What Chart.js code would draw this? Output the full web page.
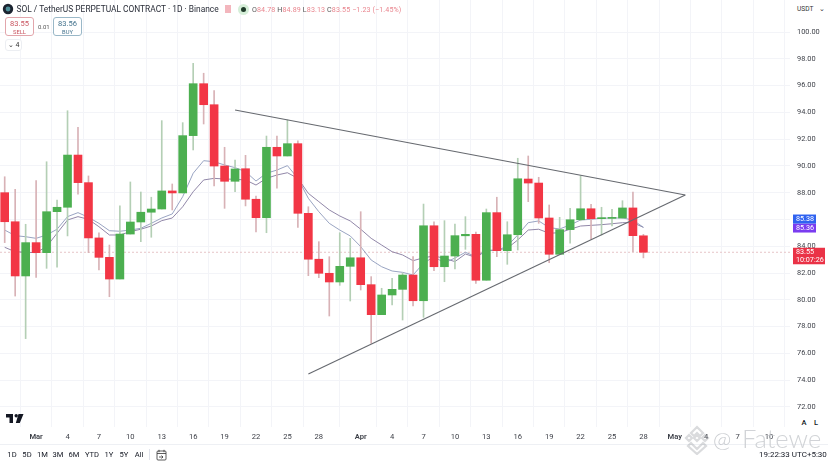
<!DOCTYPE html>
<html><head><meta charset="utf-8">
<script src="https://cdn.jsdelivr.net/npm/chart.js@4/dist/chart.umd.min.js"></script>
<style>
html,body{margin:0;padding:0;background:#fff;width:828px;height:466px;overflow:hidden;font-family:Roboto,sans-serif}
#wrap{position:relative;width:828px;height:466px}
canvas{position:absolute;left:0;top:0}
.o{position:absolute;white-space:nowrap;color:#131722;line-height:1}
.box{position:absolute;border-radius:3px;background:#fff;box-sizing:border-box;text-align:center}
.tf{position:absolute;top:451px;font-size:7.6px;color:#131722;line-height:1;transform:translateX(-50%)}
</style></head><body><div id="wrap">
<canvas id="c" width="828" height="466"></canvas>

<svg class="o" style="left:2px;top:3px" width="12" height="12"><circle cx="6" cy="6" r="5.2" fill="#1c2430"/><circle cx="6" cy="6" r="2.4" fill="#4f8f9a"/></svg>
<div class="o" style="left:16.5px;top:4.5px;font-size:8.4px;color:#2a2e39">SOL / TetherUS PERPETUAL CONTRACT · 1D · Binance</div>
<div class="o" style="left:225px;top:5px;width:6px;height:8px;background:#f3b6bd"></div>
<div class="o" style="left:238px;top:3.5px;width:11px;height:11px;border-radius:50%;background:#d5eed8"></div>
<div class="o" style="left:241px;top:6.5px;width:5px;height:5px;border-radius:50%;background:#1f3a2a"></div>
<div class="o" style="left:252px;top:5.5px;font-size:7.1px;color:#e9868f;letter-spacing:.12px"><span style="color:#555">O</span>84.78 <span style="color:#555">H</span>84.89 <span style="color:#555">L</span>83.13 <span style="color:#555">C</span>83.55 −1.23 (−1.45%)</div>

<div class="box" style="left:5px;top:17px;width:29px;height:19px;border:1px solid #e2a6ac;color:#c9545f;font-size:7.5px;padding-top:2px;line-height:1">83.55<div style="font-size:5.8px;margin-top:2px">SELL</div></div>
<div class="o" style="left:38px;top:23.5px;font-size:6px;color:#555">0.01</div>
<div class="box" style="left:53px;top:17px;width:29px;height:19px;border:1px solid #9ab8c8;color:#41718c;font-size:7.5px;padding-top:2px;line-height:1">83.56<div style="font-size:5.8px;margin-top:2px">BUY</div></div>
<div class="box" style="left:5px;top:39px;width:17px;height:12px;border:1px solid #eceef2;color:#333;font-size:7px;padding-top:2px;line-height:1">⌄ 4</div>

<div class="box" style="left:795px;top:3px;width:31px;height:12px;color:#333;font-size:6.6px;padding-top:3px;line-height:1;text-align:left;padding-left:2px">USDT <span style="margin-left:4px">⌄</span></div>
<div class="box" style="left:799px;top:417px;width:10px;height:11px;color:#131722;font-size:7.5px;padding-top:2px;line-height:1;font-weight:500">A</div>
<div class="box" style="left:811px;top:417px;width:10px;height:11px;color:#131722;font-size:7.5px;padding-top:2px;line-height:1;font-weight:500">L</div>

<svg class="o" style="left:6px;top:414px" width="18" height="10" viewBox="0 0 18 10"><path d="M0 0h7v9H3.5V3.4H0z M7.5 0h0 M12.5 0h5L13.8 9H9.8z" fill="#131722"/><circle cx="10.2" cy="1.8" r="1.7" fill="#131722"/></svg>

<div class="o" style="left:0;top:444px;width:828px;height:1px;background:#eef0f4"></div>
<div class="tf" style="left:12px">1D</div><div class="tf" style="left:27px">5D</div><div class="tf" style="left:42.5px">1M</div><div class="tf" style="left:58px">3M</div><div class="tf" style="left:74px">6M</div><div class="tf" style="left:92px">YTD</div><div class="tf" style="left:109px">1Y</div><div class="tf" style="left:124px">5Y</div><div class="tf" style="left:139px">All</div>
<div class="o" style="left:149px;top:449px;width:1px;height:11px;background:#e0e3eb"></div>
<svg class="o" style="left:156px;top:449px" width="11" height="12" viewBox="0 0 11 12" fill="none" stroke="#333" stroke-width=".8"><rect x="1" y="2" width="9" height="9" rx="1"/><path d="M1 4.5h9M3 .8v2.4M8 .8v2.4M3 8h4M5.5 6.5L7 8 5.5 9.5"/></svg>
<div class="o" style="left:759px;top:451px;font-size:8px;color:#131722">19:22:33 UTC+5:30</div>

<svg class="o" style="left:684px;top:425px;opacity:.32" width="26" height="30" viewBox="0 0 26 30" fill="none" stroke="#8b8f96" stroke-width="2.2"><path d="M13 2l6 6-3 3-3-3-3 3-3-3zM5 10l3 3-3 3-3-3zM21 10l3 3-3 3-3-3zM13 10l3 3-3 3-3-3zM7 18l6 6 6-6 3 3-9 8-9-8z"/></svg>
<div class="o" style="left:713px;top:428px;font-size:22px;color:#bfc2c7;font-family:Lato,sans-serif;font-weight:300;opacity:.85">@</div>
<div class="o" style="left:742px;top:426px;font-size:25.5px;color:#c6c9cd;font-family:Lato,sans-serif;font-weight:300;opacity:.8">Fatewe</div>

<script>
const dates = ["Feb 26","Feb 27","Feb 28","Mar 1","Mar 2","Mar 3","Mar 4","Mar 5","Mar 6","Mar 7","Mar 8","Mar 9","Mar 10","Mar 11","Mar 12","Mar 13","Mar 14","Mar 15","Mar 16","Mar 17","Mar 18","Mar 19","Mar 20","Mar 21","Mar 22","Mar 23","Mar 24","Mar 25","Mar 26","Mar 27","Mar 28","Mar 29","Mar 30","Mar 31","Apr 1","Apr 2","Apr 3","Apr 4","Apr 5","Apr 6","Apr 7","Apr 8","Apr 9","Apr 10","Apr 11","Apr 12","Apr 13","Apr 14","Apr 15","Apr 16","Apr 17","Apr 18","Apr 19","Apr 20","Apr 21","Apr 22","Apr 23","Apr 24","Apr 25","Apr 26","Apr 27","Apr 28"];
const open  = [88.00,85.83,81.78,84.27,83.52,86.58,86.91,90.81,88.75,84.62,83.17,81.55,84.91,85.81,86.54,86.78,88.13,87.98,92.26,96.14,94.57,89.99,88.85,89.79,87.51,86.13,91.39,90.74,91.66,86.46,83.03,81.98,81.33,82.50,83.14,81.13,78.89,80.36,80.78,81.85,79.93,85.53,82.47,83.27,84.78,84.89,81.46,86.51,83.67,84.86,89.02,88.72,86.11,83.40,85.24,85.98,86.80,86.06,86.08,86.11,86.86,84.78];
const high  = [89.19,88.25,85.64,88.90,90.31,87.45,94.12,92.88,89.25,85.01,84.09,87.01,88.80,88.05,87.66,93.38,88.65,93.23,97.66,96.92,95.62,91.39,90.44,90.79,87.75,92.23,92.23,93.43,91.88,86.95,84.34,83.22,85.01,84.59,86.58,81.73,80.86,81.61,82.00,83.22,87.15,85.83,85.91,85.66,86.21,85.06,86.78,87.66,85.83,90.57,90.74,89.15,87.08,86.16,86.83,89.25,87.13,86.91,86.76,87.40,88.05,84.89];
const low   = [84.27,80.28,77.10,81.68,82.35,82.43,84.77,87.88,83.52,82.23,80.23,81.55,84.91,84.34,84.67,86.78,86.71,87.98,91.19,93.13,88.50,86.83,88.07,87.01,85.06,85.01,88.33,90.74,85.41,81.80,81.65,78.79,81.08,79.91,80.73,76.75,78.89,79.61,78.49,79.54,78.69,82.17,81.35,82.30,83.77,81.23,81.46,83.22,82.65,83.72,87.33,85.71,82.77,83.40,84.22,85.90,84.52,84.84,85.51,86.08,83.59,83.13];
const close = [85.83,81.78,84.27,83.52,86.58,86.91,90.81,88.75,84.62,83.17,81.55,84.91,85.81,86.54,86.78,88.13,87.98,92.26,96.14,94.57,89.99,88.85,89.77,87.51,86.13,91.39,90.74,91.66,86.46,83.03,81.98,81.33,82.50,83.14,81.13,78.89,80.36,80.78,81.85,79.93,85.53,82.47,83.27,84.79,84.89,81.46,86.51,83.67,84.86,89.04,88.72,86.11,83.40,85.24,85.98,86.80,86.06,86.11,86.11,86.86,84.79,83.55];
const emaFast = [85.21,84.79,84.71,84.59,84.84,85.27,86.21,86.51,86.16,85.71,85.16,85.12,85.21,85.34,85.71,86.11,86.41,87.70,89.45,90.39,90.31,90.07,89.87,89.57,88.87,89.45,89.69,90.02,89.07,87.58,86.58,85.71,85.21,84.77,83.97,82.97,82.47,82.15,82.05,81.85,82.73,83.22,82.75,83.12,83.55,83.22,83.72,83.67,84.02,84.84,85.76,85.89,85.39,85.29,85.59,85.96,86.01,86.09,86.11,86.11,85.96,85.41];
const emaSlow = [83.92,83.59,83.55,83.52,83.97,84.97,85.96,86.21,86.01,85.46,84.84,84.84,85.09,85.27,85.51,85.91,86.11,86.95,88.07,88.95,89.07,89.02,89.00,88.95,88.57,89.07,89.32,89.49,89.07,87.95,87.33,86.71,86.26,85.89,85.27,84.59,84.09,83.59,83.35,82.92,83.14,83.27,83.10,82.85,83.42,83.17,83.67,83.72,83.85,84.47,85.21,85.27,84.97,85.01,85.27,85.51,85.56,85.61,85.68,85.76,85.76,85.41];
const trendUpperDays = [22,65], trendUpperPrices = [94.17,87.83];
const trendLowerDays = [29,65], trendLowerPrices = [74.46,87.83];
const tickDays   = [3,6,9,12,15,18,21,24,27,30,34,37,40,43,46,49,52,55,58,61,64,67,70,73];
const tickLabels = ["Mar","4","7","10","13","16","19","22","25","28","Apr","4","7","10","13","16","19","22","25","28","May","4","7","10"];
const priceTicks = [72,74,76,78,80,82,84,86,88,90,92,94,96,98,100];
const lastPrice = 83.55, emaFastLabel = "85.38", emaSlowLabel = "85.36", countdown = "10:07:26";
const dayMin = -0.449, dayMax = 75, priceMin = 70.5, priceMax = 102.39;

const GREEN = '#4caf50', RED = '#f23645';
const up = close.map((c,i)=>c>=open[i]);
const xy = (xs,ys)=>xs.map((x,i)=>({x,y:ys[i]}));
const days = dates.map((_,i)=>i);
const tagPlugin = {
  id:'tags',
  afterDraw(ch){
    const g=ch.ctx, y=ch.scales.y, a=ch.chartArea.right+3;
    const tag=(top,h,w,col,lines)=>{
      g.fillStyle=col; g.fillRect(a,top,w,h);
      g.fillStyle='#fff'; g.textAlign='left'; g.textBaseline='middle'; g.font='7.2px Roboto';
      lines.forEach((t,i)=>g.fillText(t,a+3,top+h*(i+0.5)/lines.length));
    };
    const py=y.getPixelForValue(85.36);
    tag(py-4.5,9,23,'#7a3cf0',[emaSlowLabel]);
    tag(py-13.5,9,23,'#2f62f0',[emaFastLabel]);
    tag(y.getPixelForValue(lastPrice)-4.5,16.5,32,'#ea3246',[lastPrice.toFixed(2),countdown]);
  }
};
const noPad = s=>{s.paddingTop=0;s.paddingBottom=0;s.paddingLeft=0;s.paddingRight=0;};
new Chart(document.getElementById('c'),{
  data:{datasets:[
    {type:'line',label:'Trend upper',data:xy(trendUpperDays,trendUpperPrices),borderColor:'#66696f',borderWidth:1.1,pointRadius:0,order:0},
    {type:'line',label:'Trend lower',data:xy(trendLowerDays,trendLowerPrices),borderColor:'#66696f',borderWidth:1.1,pointRadius:0,order:0},
    {type:'bar',label:'Body',data:days.map(i=>({x:i,y:[open[i],close[i]]})),backgroundColor:up.map(u=>u?GREEN:RED),barThickness:8,minBarLength:1,grouped:false,order:1},
    {type:'bar',label:'Wick',data:days.map(i=>({x:i,y:[low[i],high[i]]})),backgroundColor:up.map(u=>u?'#b4cfb5':'#d8b2b6'),barThickness:1,grouped:false,order:2},
    {type:'line',label:'EMA fast',data:xy(days,emaFast),borderColor:'#8d9abb',borderWidth:.9,pointRadius:0,order:3},
    {type:'line',label:'EMA slow',data:xy(days,emaSlow),borderColor:'#85799e',borderWidth:.9,pointRadius:0,order:3},
    {type:'line',label:'Last price',data:xy([dayMin,dayMax],[lastPrice,lastPrice]),borderColor:'#e6c4c7',borderWidth:1,borderDash:[2,2],pointRadius:0,order:4}
  ]},
  options:{
    responsive:false,animation:false,
    layout:{padding:0},
    plugins:{legend:{display:false},tooltip:{enabled:false}},
    scales:{
      x:{type:'linear',min:dayMin,max:dayMax,offset:false,
        afterBuildTicks(s){s.ticks=tickDays.map(v=>({value:v}));},
        afterFit(s){s.height=39;noPad(s);},
        grid:{color:'#f3f4f8',lineWidth:1,drawTicks:false},border:{display:false},
        ticks:{autoSkip:false,maxRotation:0,padding:6,color:'#3c3f47',
          font:c=>{const l=c&&c.tick?tickLabels[tickDays.indexOf(c.tick.value)]:'';return {family:'Roboto',size:7.6,weight:/[a-z]/i.test(l||'')?'600':'400'};},
          callback:v=>tickLabels[tickDays.indexOf(v)]}
      },
      y:{type:'linear',position:'right',min:priceMin,max:priceMax,
        afterBuildTicks(s){s.ticks=priceTicks.map(v=>({value:v}));},
        afterFit(s){s.width=38;noPad(s);},
        grid:{color:'#f3f4f8',lineWidth:1,drawTicks:false},border:{display:false},
        ticks:{padding:7,color:'#3c3f47',font:{family:'Roboto',size:7.4},callback:v=>v.toFixed(2)}
      }
    }
  },
  plugins:[tagPlugin]
});
</script>
</div></body></html>
